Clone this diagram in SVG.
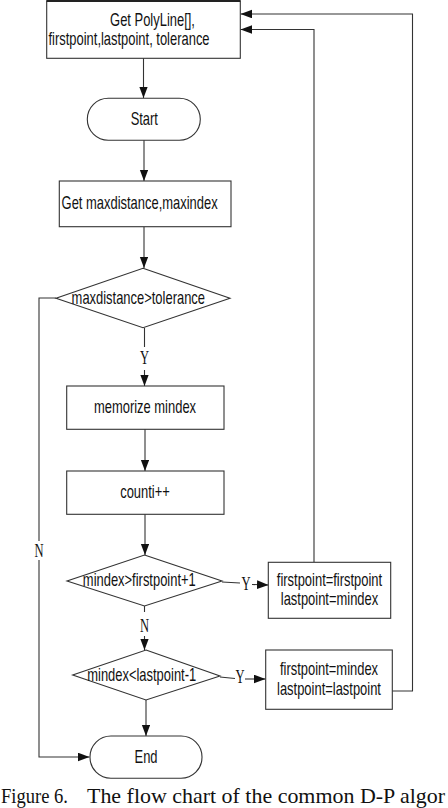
<svg xmlns="http://www.w3.org/2000/svg" width="448" height="808" viewBox="0 0 448 808">
<style>
.shape{fill:#fff;stroke:#333;stroke-width:1.1}
.conn{fill:none;stroke:#333;stroke-width:1.1}
.t{font-family:"Liberation Sans",Arial,sans-serif;font-size:17.5px;fill:#111;text-anchor:middle}
.ts{font-family:"Liberation Sans",Arial,sans-serif;font-size:17.5px;fill:#111;text-anchor:start}
.lab{font-family:"Liberation Serif","Times New Roman",serif;font-size:18px;fill:#111;text-anchor:middle}
.cap{font-family:"Liberation Serif","Times New Roman",serif;font-size:21px;fill:#111}
</style>
<defs>
<marker id="ah" markerUnits="userSpaceOnUse" markerWidth="12" markerHeight="9" refX="11.5" refY="4.3" orient="auto">
<path d="M0,0 L11.5,4.3 L0,8.6 z" fill="#111"/>
</marker>
</defs>
<rect width="448" height="808" fill="#fff"/>

<g id="connectors">
<line class="conn" x1="143.5" y1="58" x2="143.5" y2="98" marker-end="url(#ah)"/>
<line class="conn" x1="144" y1="140" x2="144" y2="181" marker-end="url(#ah)"/>
<line class="conn" x1="144" y1="227" x2="144" y2="268" marker-end="url(#ah)"/>
<line class="conn" x1="144.5" y1="328" x2="144.5" y2="347"/>
<line class="conn" x1="144.5" y1="370" x2="144.5" y2="386" marker-end="url(#ah)"/>
<line class="conn" x1="145" y1="429" x2="145" y2="471" marker-end="url(#ah)"/>
<line class="conn" x1="145" y1="514" x2="145" y2="555" marker-end="url(#ah)"/>
<line class="conn" x1="144.5" y1="606" x2="144.5" y2="612"/>
<line class="conn" x1="144.5" y1="636" x2="144.5" y2="650" marker-end="url(#ah)"/>
<line class="conn" x1="146" y1="700" x2="146" y2="736" marker-end="url(#ah)"/>
<polyline class="conn" points="56,298 39,298 39,541"/>
<polyline class="conn" points="39,560 39,757 89.5,757" marker-end="url(#ah)"/>
<line class="conn" x1="222" y1="582" x2="240" y2="583"/>
<line class="conn" x1="252" y1="584.5" x2="268.5" y2="585" marker-end="url(#ah)"/>
<line class="conn" x1="220" y1="677" x2="235" y2="678.5"/>
<line class="conn" x1="245" y1="679" x2="265.5" y2="679" marker-end="url(#ah)"/>
<polyline class="conn" points="314,562 314,29.5 240.5,29.5" marker-end="url(#ah)"/>
<polyline class="conn" points="392,691 412.5,691 412.5,14 240.5,14" marker-end="url(#ah)"/>
<text class="lab" transform="translate(144.5,364) scale(0.7,1)">Y</text>
<text class="lab" transform="translate(39,557) scale(0.7,1)">N</text>
<text class="lab" transform="translate(246,590) scale(0.7,1)">Y</text>
<text class="lab" transform="translate(144.5,632) scale(0.7,1)">N</text>
<text class="lab" transform="translate(240,683) scale(0.7,1)">Y</text>
</g>

<g id="input">
<rect class="shape" x="46.7" y="0.8" width="193.6" height="57.5"/>
<line x1="46.7" y1="1" x2="240.3" y2="1" stroke="#222" stroke-width="2"/>
<text class="t" transform="translate(152.5,26) scale(0.74,1)">Get PolyLine[],</text>
<text class="ts" transform="translate(48.5,45) scale(0.74,1)">firstpoint,lastpoint, tolerance</text>
</g>

<g id="start">
<rect class="shape" x="87.3" y="98.3" width="113" height="42" rx="21" ry="21"/>
<text class="t" transform="translate(144.3,125) scale(0.74,1)">Start</text>
</g>

<g id="getmax">
<rect class="shape" x="59.3" y="181" width="171.7" height="45.7"/>
<text class="t" transform="translate(139.6,208.5) scale(0.74,1)">Get maxdistance,maxindex</text>
</g>

<g id="cond1">
<polygon class="shape" points="143,268.3 230,298.3 143,327.7 56,298.3"/>
<text class="t" transform="translate(138.3,303.5) scale(0.74,1)">maxdistance&gt;tolerance</text>
</g>

<g id="memorize">
<rect class="shape" x="66.7" y="386" width="157.3" height="43.3"/>
<text class="t" transform="translate(145,412.7) scale(0.74,1)">memorize mindex</text>
</g>

<g id="counti">
<rect class="shape" x="66.7" y="471" width="157.3" height="43.3"/>
<text class="t" transform="translate(145,497.7) scale(0.74,1)">counti++</text>
</g>

<g id="cond2">
<polygon class="shape" points="144.5,555 222,581 144.5,606 67,581"/>
<text class="t" transform="translate(139.3,585.7) scale(0.74,1)">mindex&gt;firstpoint+1</text>
</g>

<g id="left-half">
<rect class="shape" x="268.3" y="562.3" width="122.4" height="56"/>
<text class="t" transform="translate(329.5,585.7) scale(0.74,1)">firstpoint=firstpoint</text>
<text class="t" transform="translate(329.5,605) scale(0.74,1)">lastpoint=mindex</text>
</g>

<g id="cond3">
<polygon class="shape" points="146,650 220,676 146,700 72.7,675"/>
<text class="t" transform="translate(141.7,681) scale(0.74,1)">mindex&lt;lastpoint-1</text>
</g>

<g id="right-half">
<rect class="shape" x="265.7" y="650" width="126.6" height="59.3"/>
<text class="t" transform="translate(329,675) scale(0.74,1)">firstpoint=mindex</text>
<text class="t" transform="translate(329,695) scale(0.74,1)">lastpoint=lastpoint</text>
</g>

<g id="end">
<rect class="shape" x="90" y="736" width="112" height="42.3" rx="21" ry="21"/>
<text class="t" transform="translate(146,763.3) scale(0.74,1)">End</text>
</g>

<g id="caption">
<text class="cap" x="1" y="802.5" textLength="67" lengthAdjust="spacingAndGlyphs">Figure 6.</text>
<text class="cap" x="87" y="802.5" textLength="358" lengthAdjust="spacingAndGlyphs">The flow chart of the common D-P algor</text>
</g>
</svg>
